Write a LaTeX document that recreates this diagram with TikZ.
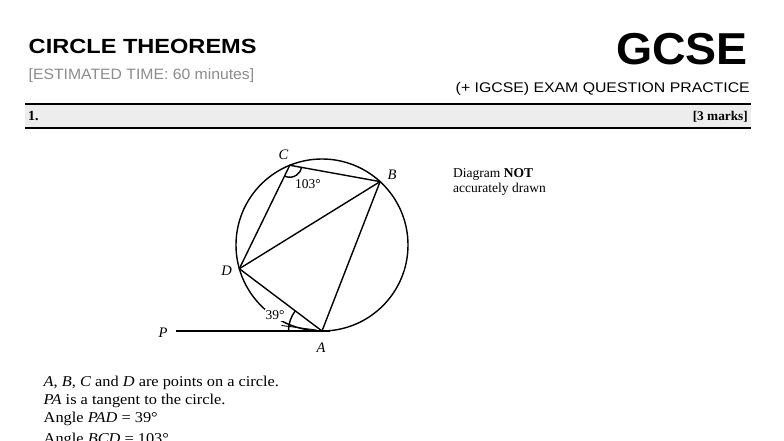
\documentclass[tikz,border=0pt]{standalone}
\usepackage{fontspec}
\setmainfont{Liberation Serif}
\newfontfamily\hdr{Liberation Sans}
\usetikzlibrary{angles,calc}
\begin{document}
\begin{tikzpicture}[x=1pt,y=1pt,
  geo/.style={line width=1.4pt},
  ptlbl/.style={inner sep=0pt,font=\fontsize{14.5}{16}\selectfont\itshape},
  anglbl/.style={inner sep=1pt,fill=white,font=\fontsize{13.5}{15}\selectfont},
  body/.style={inner sep=0pt,anchor=base west,xscale=1.09,font=\fontsize{15}{18}\selectfont}]
\clip (0,0) rectangle (784,-441);
\useasboundingbox (0,0) rectangle (784,-441);
\fill[white] (0,0) rectangle (784,-441);
% header
\node[inner sep=0pt,anchor=base west,xscale=1.15,font=\hdr\fontsize{20.5}{24}\selectfont\bfseries] (title) at (28.5,-54) {CIRCLE THEOREMS};
\node[inner sep=0pt,anchor=base west,xscale=1.05,text=black!45,font=\hdr\fontsize{15}{18}\selectfont] (time) at (28.5,-80) {[ESTIMATED TIME: 60 minutes]};
\node[inner sep=0pt,anchor=base east,xscale=1.04,font=\hdr\fontsize{44.7}{48}\selectfont\bfseries] (gcse) at (748,-65) {GCSE};
\node[inner sep=0pt,anchor=base east,xscale=1.13,font=\hdr\fontsize{14}{16}\selectfont] (sub) at (750,-92.7) {(+ IGCSE) EXAM QUESTION PRACTICE};
% question bar
\fill[black!7] (25,-104) rectangle (751,-128);
\draw[line width=1.3pt] (25,-104) -- (751,-104);
\draw[line width=1.8pt] (25,-128) -- (751,-128);
\node[inner sep=0pt,anchor=base west,font=\fontsize{14}{16}\selectfont\bfseries] (qn) at (28,-120.5) {1.};
\node[inner sep=0pt,anchor=base east,font=\fontsize{13.3}{16}\selectfont\bfseries] (marks) at (748,-120.5) {[3 marks]};
% diagram
\coordinate (O) at (322,-245);
\coordinate (A) at ($(O)+(270:86)$);
\coordinate (B) at ($(O)+(47.5:86)$);
\coordinate (C) at ($(O)+(112:86)$);
\coordinate (D) at ($(O)+(196:86)$);
\coordinate (P) at (176,-331);
\coordinate (Pe) at (330,-331);
\draw[geo] (O) circle (86);
\draw[geo] (P) -- (Pe);
\draw[geo] (A) -- (B) -- (C) -- (D) -- (A);
\draw[geo] (D) -- (B);
\pic[draw,geo,angle radius=12pt] {angle=D--C--B};
\pic[draw,geo,angle radius=33.5pt] {angle=D--A--P};
\node[ptlbl] (lC) at (283.5,-155) {C};
\node[ptlbl] (lB) at (392,-174.5) {B};
\node[ptlbl] (lD) at (226.5,-271) {D};
\node[ptlbl] (lA) at (321,-348) {A};
\node[ptlbl] (lP) at (163,-333) {P};
\node[anglbl] (a103) at (308,-184) {103°};
\node[anglbl] (a39) at (275,-315) {39°};
\coordinate (lead) at (316.5,-330);
\draw[line width=0.9pt] (281.5,-325.5) -- (lead);
% note
\node[inner sep=0pt,anchor=base west,font=\fontsize{13.5}{15.5}\selectfont] (note1) at (453,-177) {Diagram \textbf{NOT}};
\node[inner sep=0pt,anchor=base west,font=\fontsize{13.5}{15.5}\selectfont] (note2) at (453,-192.5) {accurately drawn};
% question text
\node[body] (t1) at (43.5,-386.7) {\textit{A}, \textit{B}, \textit{C} and \textit{D} are points on a circle.};
\node[body] (t2) at (43.5,-404.5) {\textit{PA} is a tangent to the circle.};
\node[body] (t3) at (43.5,-422.3) {Angle \textit{PAD} = 39°};
\node[body] (t4) at (43.5,-443) {Angle \textit{BCD} = 103°};
\end{tikzpicture}
\end{document}
